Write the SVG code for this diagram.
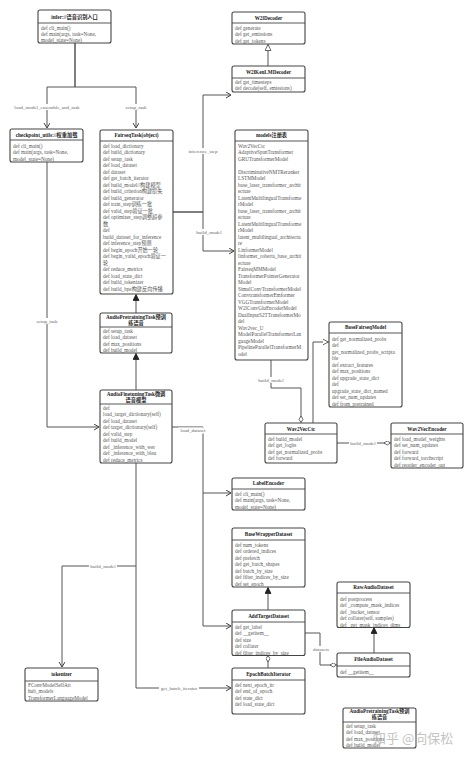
<svg xmlns="http://www.w3.org/2000/svg" width="474" height="758" viewBox="0 0 474 758">
<style>
.b{fill:#fff;stroke:#444;stroke-width:1.1}
.s{stroke:#444;stroke-width:0.9}
.h{font-family:"Liberation Serif","Noto Sans CJK SC",serif;font-weight:bold;font-size:5.2px;fill:#222;text-anchor:middle}
.t{font-family:"Liberation Serif","Noto Sans CJK SC",serif;font-size:5.2px;fill:#555}
.c{fill:none;stroke:#555;stroke-width:1}
.l{font-family:"Liberation Serif","Noto Sans CJK SC",serif;font-size:5px;fill:#666;text-anchor:middle}
.lb{fill:#fff}
.wm{font-family:"Noto Sans CJK SC",sans-serif;font-size:13px;fill:#aaa;opacity:0.7}
</style>
<defs>
<marker id="open" markerUnits="userSpaceOnUse" markerWidth="8" markerHeight="8" refX="5" refY="3" orient="auto"><path d="M0,0 L5,3 L0,6" fill="none" stroke="#444" stroke-width="1"/></marker>
<marker id="fill" markerUnits="userSpaceOnUse" markerWidth="8" markerHeight="8" refX="6" refY="3" orient="auto"><path d="M0,0 L6,3 L0,6 Z" fill="#222" stroke="#222" stroke-width="0.8"/></marker>
<marker id="hollow" markerUnits="userSpaceOnUse" markerWidth="8" markerHeight="8" refX="6" refY="3" orient="auto"><path d="M0,0 L6,3 L0,6 Z" fill="#fff" stroke="#444" stroke-width="0.8"/></marker>
<marker id="dia" markerUnits="userSpaceOnUse" markerWidth="10" markerHeight="8" refX="7" refY="2.5" orient="auto"><path d="M0.5,2.5 L3.8,0.5 L7,2.5 L3.8,4.5 Z" fill="#fff" stroke="#444" stroke-width="0.8"/></marker>
</defs>

<g id="connectors">
<path class="c" d="M75,43 V87 H47 V128" marker-end="url(#open)"/>
<path class="c" d="M75,43 V87 H136 V128" marker-end="url(#open)"/>
<path class="c" d="M47,162 V427 H99" marker-end="url(#open)"/>
<path class="c" d="M173,212 H203 V95 H231" marker-end="url(#open)"/>
<path class="c" d="M173,212 H203 V251 H234" marker-end="url(#open)"/>
<path class="c" d="M268,66 V44.5" marker-end="url(#hollow)"/>
<path class="c" d="M136,313 V294.5" marker-end="url(#fill)"/>
<path class="c" d="M136,390 V353.5" marker-end="url(#fill)"/>
<path class="c" d="M271,360 V388 H301 V422.5" marker-end="url(#dia)"/>
<path class="c" d="M313,423 V342 H328.5" marker-end="url(#hollow)"/>
<path class="c" d="M337,443 H390.5" marker-end="url(#dia)"/>
<path class="c" d="M172,427 H203 V493 H231" marker-end="url(#open)"/>
<path class="c" d="M203,493 V626 H231" marker-end="url(#open)"/>
<path class="c" d="M136,463 V566 H62 V667" marker-end="url(#open)"/>
<path class="c" d="M136,566 V688 H231" marker-end="url(#open)"/>
<path class="c" d="M268,610 V587.5" marker-end="url(#fill)"/>
<path class="c" d="M268,668 V655.5" marker-end="url(#dia)"/>
<path class="c" d="M305,633 H320 V665 H336.5" marker-end="url(#dia)"/>
<path class="c" d="M374,653 V627.5" marker-end="url(#fill)"/>
<rect class="lb" x="13" y="104" width="68" height="6"/><text class="l" x="47" y="108.7">load_model_ensemble_and_task</text>
<rect class="lb" x="123" y="104" width="26" height="6"/><text class="l" x="136" y="108.7">setup_task</text>
<rect class="lb" x="34" y="318" width="26" height="6"/><text class="l" x="47" y="322.7">setup_task</text>
<rect class="lb" x="187" y="148" width="32" height="6"/><text class="l" x="203" y="152.7">inference_step</text>
<rect class="lb" x="194" y="229" width="30" height="6"/><text class="l" x="209" y="233.7">build_model</text>
<rect class="lb" x="256" y="377" width="30" height="6"/><text class="l" x="271" y="381.7">build_model</text>
<rect class="lb" x="349" y="440" width="28" height="6"/><text class="l" x="363" y="444.7">build_model</text>
<rect class="lb" x="178" y="427.5" width="30" height="6"/><text class="l" x="193" y="432">load_dataset</text>
<rect class="lb" x="89" y="563" width="28" height="6"/><text class="l" x="103" y="567.7">build_model</text>
<rect class="lb" x="159" y="685" width="40" height="6"/><text class="l" x="179" y="689.7">get_batch_iterator</text>
<rect class="lb" x="311" y="646" width="20" height="6"/><text class="l" x="321" y="650.7">datasets</text>
</g>

<g id="infer">
<rect class="b" x="38" y="10" width="73" height="33" rx="2"/><line class="s" x1="38" y1="23" x2="111" y2="23"/>
<text class="h" x="74.5" y="18.8">infer://语音识别入口</text>
<text class="t" x="41" y="29.8">def cli_main()</text>
<text class="t" x="41" y="35.8">def main(args, task=None,</text>
<text class="t" x="41" y="41.8">model_state=None)</text>
</g>

<g id="checkpoint_utils">
<rect class="b" x="10" y="129" width="73" height="33" rx="2"/><line class="s" x1="10" y1="140" x2="83" y2="140"/>
<text class="h" x="46.5" y="136.8">checkpoint_utils://权重加载</text>
<text class="t" x="13" y="147.8">def cli_main()</text>
<text class="t" x="13" y="154.3">def main(args, task=None,</text>
<text class="t" x="13" y="160.8">model_state=None)</text>
</g>

<g id="FairseqTask">
<rect class="b" x="100" y="130" width="73" height="164" rx="2"/><line class="s" x1="100" y1="141" x2="173" y2="141"/>
<text class="h" x="136.5" y="137.3">FairseqTask(object)</text>
<text class="t" x="103" y="147.8">def load_dictionary</text>
<text class="t" x="103" y="154.3">def build_dictionary</text>
<text class="t" x="103" y="160.8">def setup_task</text>
<text class="t" x="103" y="167.3">def load_dataset</text>
<text class="t" x="103" y="173.8">def dataset</text>
<text class="t" x="103" y="180.3">def get_batch_iterator</text>
<text class="t" x="103" y="186.8">def build_model//构建模型</text>
<text class="t" x="103" y="193.3">def build_criterion构建损失</text>
<text class="t" x="103" y="199.8">def build_generator</text>
<text class="t" x="103" y="206.3">def train_step训练一批</text>
<text class="t" x="103" y="212.8">def valid_step验证一批</text>
<text class="t" x="103" y="219.3">def optimizer_step调整超参</text>
<text class="t" x="103" y="225.8">数</text>
<text class="t" x="103" y="232.3">def</text>
<text class="t" x="103" y="238.8">build_dataset_for_inference</text>
<text class="t" x="103" y="245.3">def inference_step预测</text>
<text class="t" x="103" y="251.8">def begin_epoch开始一轮</text>
<text class="t" x="103" y="258.3">def begin_valid_epoch验证一</text>
<text class="t" x="103" y="264.8">轮</text>
<text class="t" x="103" y="271.3">def reduce_metrics</text>
<text class="t" x="103" y="277.8">def load_state_dict</text>
<text class="t" x="103" y="284.3">def build_tokenizer</text>
<text class="t" x="103" y="290.8">def build_bpe构建反向传播</text>
</g>

<g id="W2lDecoder">
<rect class="b" x="232" y="12" width="73" height="32" rx="2"/><line class="s" x1="232" y1="23" x2="305" y2="23"/>
<text class="h" x="268.5" y="19.8">W2lDecoder</text>
<text class="t" x="235" y="29.8">def generate</text>
<text class="t" x="235" y="36.3">def get_emissions</text>
<text class="t" x="235" y="42.8">def get_tokens</text>
</g>

<g id="W2lKenLMDecoder">
<rect class="b" x="232" y="66" width="73" height="26" rx="2"/><line class="s" x1="232" y1="78" x2="305" y2="78"/>
<text class="h" x="268.5" y="74.3">W2lKenLMDecoder</text>
<text class="t" x="235" y="83.8">def get_timesteps</text>
<text class="t" x="235" y="90.3">def decode(self, emissions)</text>
</g>

<g id="models">
<rect class="b" x="235" y="130" width="73" height="230" rx="2"/><line class="s" x1="235" y1="141" x2="308" y2="141"/>
<text class="h" x="271.5" y="137.3">models注册表</text>
<text class="t" x="238" y="147.8">Wav2VecCtc</text>
<text class="t" x="238" y="154.3">AdaptiveSpanTransformer</text>
<text class="t" x="238" y="160.8">GRUTransformerModel</text>
<text class="t" x="238" y="173.8">DiscriminativeNMTReranker</text>
<text class="t" x="238" y="180.3">LSTMModel</text>
<text class="t" x="238" y="186.8">base_laser_transformer_archit</text>
<text class="t" x="238" y="193.3">ecture</text>
<text class="t" x="238" y="199.8">LatentMultilingualTransforme</text>
<text class="t" x="238" y="206.3">rModel</text>
<text class="t" x="238" y="212.8">base_laser_transformer_archit</text>
<text class="t" x="238" y="219.3">ecture</text>
<text class="t" x="238" y="225.8">LatentMultilingualTransforme</text>
<text class="t" x="238" y="232.3">rModel</text>
<text class="t" x="238" y="238.8">latent_multilingual_architectu</text>
<text class="t" x="238" y="245.3">re</text>
<text class="t" x="238" y="251.8">LinformerModel</text>
<text class="t" x="238" y="258.3">linformer_roberta_base_archit</text>
<text class="t" x="238" y="264.8">ecture</text>
<text class="t" x="238" y="271.3">FairseqMMModel</text>
<text class="t" x="238" y="277.8">TransformerPointerGenerator</text>
<text class="t" x="238" y="284.3">Model</text>
<text class="t" x="238" y="290.8">SimulConvTransformerModel</text>
<text class="t" x="238" y="297.3">ConvtransformerEmformer</text>
<text class="t" x="238" y="303.8">VGGTransformerModel</text>
<text class="t" x="238" y="310.3">W2lConvGluEncoderModel</text>
<text class="t" x="238" y="316.8">DualInputS2TTransformerMo</text>
<text class="t" x="238" y="323.3">del</text>
<text class="t" x="238" y="329.8">Wav2vec_U</text>
<text class="t" x="238" y="336.3">ModelParallelTransformerLan</text>
<text class="t" x="238" y="342.8">guageModel</text>
<text class="t" x="238" y="349.3">PipelineParallelTransformerM</text>
<text class="t" x="238" y="355.8">odel</text>
</g>

<g id="AudioPretrainingTask">
<rect class="b" x="100" y="313" width="72" height="40" rx="2"/><line class="s" x1="100" y1="327" x2="172" y2="327"/>
<text class="h" x="136" y="318.8">AudioPretrainingTask预训</text>
<text class="h" x="136" y="324.8">练语音</text>
<text class="t" x="103" y="332.8">def setup_task</text>
<text class="t" x="103" y="339.3">def load_dataset</text>
<text class="t" x="103" y="345.8">def max_positions</text>
<text class="t" x="103" y="352.3">def build_model</text>
</g>

<g id="AudioFinetuningTask">
<rect class="b" x="100" y="390" width="72" height="73" rx="2"/><line class="s" x1="100" y1="404" x2="172" y2="404"/>
<text class="h" x="136" y="395.8">AudioFinetuningTask微调</text>
<text class="h" x="136" y="401.8">语音模型</text>
<text class="t" x="103" y="409.8">def</text>
<text class="t" x="103" y="416.3">load_target_dictionary(self)</text>
<text class="t" x="103" y="422.8">def load_dataset</text>
<text class="t" x="103" y="429.3">def target_dictionary(self)</text>
<text class="t" x="103" y="435.8">def valid_step</text>
<text class="t" x="103" y="442.3">def build_model</text>
<text class="t" x="103" y="448.8">def _inference_with_wer</text>
<text class="t" x="103" y="455.3">def _inference_with_bleu</text>
<text class="t" x="103" y="461.8">def reduce_metrics</text>
</g>

<g id="BaseFairseqModel">
<rect class="b" x="329" y="322" width="73" height="85" rx="2"/><line class="s" x1="329" y1="333" x2="402" y2="333"/>
<text class="h" x="365.5" y="329.3">BaseFairseqModel</text>
<text class="t" x="332" y="340.8">def get_normalized_probs</text>
<text class="t" x="332" y="347.3">def</text>
<text class="t" x="332" y="353.8">get_normalized_probs_scripta</text>
<text class="t" x="332" y="360.3">ble</text>
<text class="t" x="332" y="366.8">def extract_features</text>
<text class="t" x="332" y="373.3">def max_positions</text>
<text class="t" x="332" y="379.8">def upgrade_state_dict</text>
<text class="t" x="332" y="386.3">def</text>
<text class="t" x="332" y="392.8">upgrade_state_dict_named</text>
<text class="t" x="332" y="399.3">def set_num_updates</text>
<text class="t" x="332" y="405.8">def from_pretrained</text>
</g>

<g id="Wav2VecCtc">
<rect class="b" x="265" y="423" width="72" height="40" rx="2"/><line class="s" x1="265" y1="434" x2="337" y2="434"/>
<text class="h" x="301" y="430.6">Wav2VecCtc</text>
<text class="t" x="268" y="440.8">def build_model</text>
<text class="t" x="268" y="447.3">def get_logits</text>
<text class="t" x="268" y="453.8">def get_normalized_probs</text>
<text class="t" x="268" y="460.3">def forward</text>
</g>

<g id="Wav2VecEncoder">
<rect class="b" x="391" y="423" width="72" height="45" rx="2"/><line class="s" x1="391" y1="434" x2="463" y2="434"/>
<text class="h" x="427" y="430.6">Wav2VecEncoder</text>
<text class="t" x="394" y="440.8">def load_model_weights</text>
<text class="t" x="394" y="447.3">def set_num_updates</text>
<text class="t" x="394" y="453.8">def forward</text>
<text class="t" x="394" y="460.3">def forward_torchscript</text>
<text class="t" x="394" y="466.8">def reorder_encoder_out</text>
</g>

<g id="LabelEncoder">
<rect class="b" x="232" y="478" width="73" height="32" rx="2"/><line class="s" x1="232" y1="489" x2="305" y2="489"/>
<text class="h" x="268.5" y="485.3">LabelEncoder</text>
<text class="t" x="235" y="495.8">def cli_main()</text>
<text class="t" x="235" y="502.3">def main(args, task=None,</text>
<text class="t" x="235" y="508.8">model_state=None)</text>
</g>

<g id="BaseWrapperDataset">
<rect class="b" x="232" y="528" width="73" height="59" rx="2"/><line class="s" x1="232" y1="540" x2="305" y2="540"/>
<text class="h" x="268.5" y="535.8">BaseWrapperDataset</text>
<text class="t" x="235" y="546.8">def num_tokens</text>
<text class="t" x="235" y="553.3">def ordered_indices</text>
<text class="t" x="235" y="559.8">def prefetch</text>
<text class="t" x="235" y="566.3">def get_batch_shapes</text>
<text class="t" x="235" y="572.8">def batch_by_size</text>
<text class="t" x="235" y="579.3">def filter_indices_by_size</text>
<text class="t" x="235" y="585.8">def set_epoch</text>
</g>

<g id="AddTargetDataset">
<rect class="b" x="232" y="610" width="73" height="45.5" rx="2"/><line class="s" x1="232" y1="622" x2="305" y2="622"/>
<text class="h" x="268.5" y="617.8">AddTargetDataset</text>
<text class="t" x="235" y="628.8">def get_label</text>
<text class="t" x="235" y="635.3">def __getitem__</text>
<text class="t" x="235" y="641.8">def size</text>
<text class="t" x="235" y="648.3">def collater</text>
<text class="t" x="235" y="654.8">def filter_indices_by_size</text>
</g>

<g id="EpochBatchIterator">
<rect class="b" x="232" y="668" width="73" height="46" rx="2"/><line class="s" x1="232" y1="680" x2="305" y2="680"/>
<text class="h" x="268.5" y="675.8">EpochBatchIterator</text>
<text class="t" x="235" y="686.8">def next_epoch_itr</text>
<text class="t" x="235" y="693.3">def end_of_epoch</text>
<text class="t" x="235" y="699.8">def state_dict</text>
<text class="t" x="235" y="706.3">def load_state_dict</text>
</g>

<g id="tokenizer">
<rect class="b" x="25" y="668" width="73" height="33" rx="2"/><line class="s" x1="25" y1="681" x2="98" y2="681"/>
<text class="h" x="61.5" y="676.3">tokenizer</text>
<text class="t" x="28" y="686.8">FConvModelSelfAtt</text>
<text class="t" x="28" y="693.3">hub_models</text>
<text class="t" x="28" y="699.8">TransformerLanguageModel</text>
</g>

<g id="RawAudioDataset">
<rect class="b" x="337" y="582" width="73" height="45.5" rx="2"/><line class="s" x1="337" y1="593" x2="410" y2="593"/>
<text class="h" x="373.5" y="589.3">RawAudioDataset</text>
<text class="t" x="340" y="600.8">def postprocess</text>
<text class="t" x="340" y="607.3">def _compute_mask_indices</text>
<text class="t" x="340" y="613.8">def _bucket_tensor</text>
<text class="t" x="340" y="620.3">def collater(self, samples)</text>
<text class="t" x="340" y="626.8">def _get_mask_indices_dims</text>
</g>

<g id="FileAudioDataset">
<rect class="b" x="337" y="653" width="73" height="24" rx="2"/><line class="s" x1="337" y1="666" x2="410" y2="666"/>
<text class="h" x="373.5" y="661.3">FileAudioDataset</text>
<text class="t" x="340" y="673.8">def __getitem__</text>
</g>

<g id="AudioPretrainingTask2">
<rect class="b" x="343" y="708" width="73" height="40" rx="2"/><line class="s" x1="343" y1="722" x2="416" y2="722"/>
<text class="h" x="379.5" y="712.8">AudioPretrainingTask预训</text>
<text class="h" x="379.5" y="718.8">练语音</text>
<text class="t" x="346" y="727.8">def setup_task</text>
<text class="t" x="346" y="734.3">def load_dataset</text>
<text class="t" x="346" y="740.8">def max_positions</text>
<text class="t" x="346" y="747.3">def build_model</text>
</g>

<text class="wm" x="373" y="743">知乎 @向保松</text>
</svg>
